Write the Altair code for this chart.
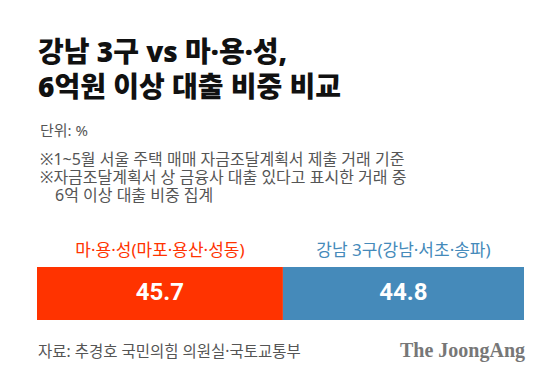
import altair as alt
import pandas as pd

groups = ["마·용·성(마포·용산·성동)", "강남 3구(강남·서초·송파)"]
values = [45.7, 44.8]
colors = ["#ff3300", "#458aba"]
order = [0, 1]

title_lines = ["강남 3구 vs 마·용·성,", "6억원 이상 대출 비중 비교"]
unit_text = "단위: %"
notes = [
    "※1~5월 서울 주택 매매 자금조달계획서 제출 거래 기준",
    "※자금조달계획서 상 금융사 대출 있다고 표시한 거래 중",
    "6억 이상 대출 비중 집계",
]
source_text = "자료: 추경호 국민의힘 의원실·국토교통부"
logo_text = "The JoongAng"

df = pd.DataFrame({"group": groups, "value": values, "ord": order, "row": ["a", "a"]})

FONT = "Noto Sans, Noto Sans CJK KR"

base = (
    alt.Chart(df)
    .transform_stack(stack="value", groupby=["row"], as_=["x0", "x1"], sort=[alt.SortField("ord")])
    .transform_calculate(mid="(datum.x0 + datum.x1) / 2")
)

xscale = alt.Scale(domain=[0, sum(values)], range=[29, 516], nice=False, zero=False)
yscale = alt.Scale(range=[259, 312], paddingInner=0, paddingOuter=0)
cscale = alt.Scale(domain=groups, range=colors)

bars = base.mark_bar(strokeWidth=0).encode(
    x=alt.X("x0:Q", scale=xscale, axis=None),
    x2="x1:Q",
    y=alt.Y("row:N", scale=yscale, axis=None),
    color=alt.Color("group:N", scale=cscale, legend=None),
)

vals = base.mark_text(font="Roboto", fontSize=24, fontWeight="bold", color="white", baseline="middle").encode(
    x=alt.X("mid:Q", scale=xscale, axis=None),
    y=alt.value(285),
    text=alt.Text("value:Q", format=".1f"),
)

cats = base.mark_text(font=FONT, fontSize=17, baseline="middle").encode(
    x=alt.X("mid:Q", scale=xscale, axis=None),
    y=alt.value(243),
    text="group:N",
    color=alt.Color("group:N", scale=cscale, legend=None),
)

def txt(s, x, y, size, color, weight="normal", font=FONT, align="left"):
    return alt.Chart(pd.DataFrame({"t": [s]})).mark_text(
        font=font, fontSize=size, fontWeight=weight, color=color, align=align, baseline="middle"
    ).encode(x=alt.value(x), y=alt.value(y), text="t:N")

texts = [
    txt(title_lines[0], 30, 46, 28, "#111111", 900),
    txt(title_lines[1], 30, 81, 28, "#111111", 900),
    txt(unit_text, 32, 123, 15, "#555555"),
    txt(notes[0], 32, 152, 16, "#555555"),
    txt(notes[1], 32, 170, 16, "#555555"),
    txt(notes[2], 47, 188, 16, "#555555"),
    txt(source_text, 30, 344, 15.5, "#555555"),
    txt(logo_text, 517, 343, 20, "#777777", "bold", "Liberation Serif", "right"),
]

chart = alt.layer(bars, vals, cats, *texts).properties(
    width=543, height=369, autosize=alt.AutoSizeParams(type="none"), padding=0
).configure_view(stroke=None)

chart.save("out.html", embed_options={"renderer": "svg", "actions": False})
